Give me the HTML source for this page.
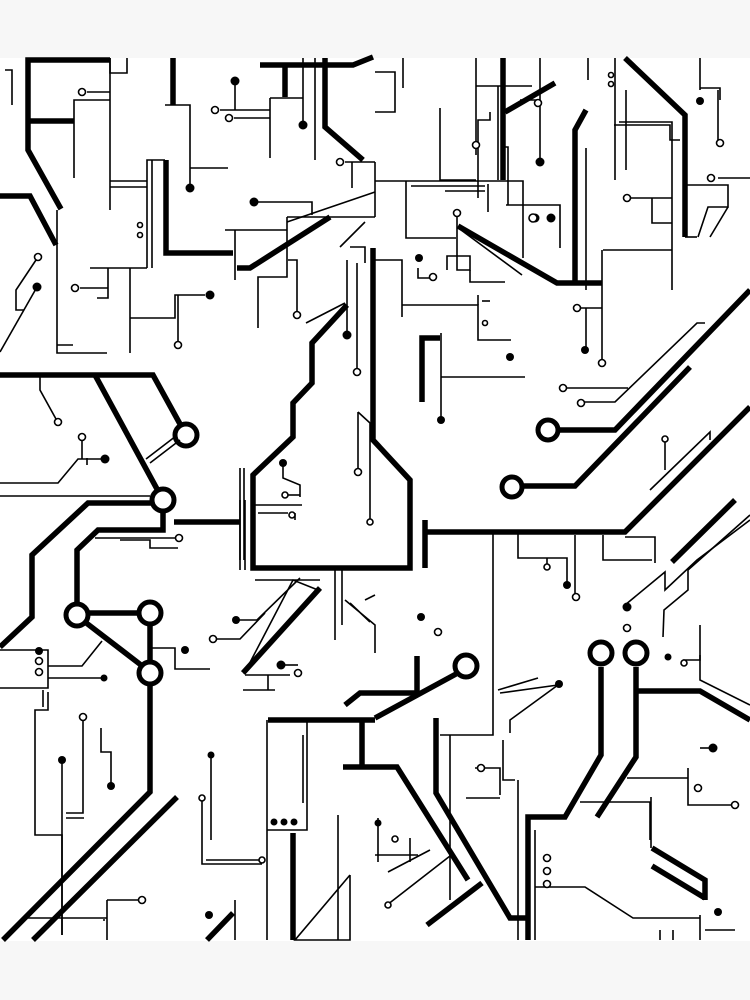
<!DOCTYPE html>
<html><head><meta charset="utf-8"><style>
html,body{margin:0;padding:0;background:#f7f7f7;}
svg{display:block;}
</style></head><body>
<svg width="750" height="1000" viewBox="0 0 750 1000" xmlns="http://www.w3.org/2000/svg">
<rect x="0" y="0" width="750" height="1000" fill="#f7f7f7"/>
<rect x="0" y="58" width="750" height="883" fill="#fff"/>
<g fill="none" stroke="#000" stroke-linejoin="miter">
<!-- THICK -->
<g stroke-width="5.5">
<path d="M110,60H28V150L61,209"/>
<path d="M28,121H74"/>
<path d="M0,196H30L56,245"/>
<path d="M0,375H153L180,424"/>
<path d="M95,375L157,489"/>
<path d="M173,58V105"/>
<path d="M166,160V253H233"/>
<path d="M237,268H250L330,217"/>
<path d="M260,65H353L373,57"/>
<path d="M285,65V97"/>
<path d="M325,58V127L363,160"/>
<path d="M347,305L312,343V383L293,403V437L253,475V568H410V480L373,440V248"/>
<path d="M503,58V180"/>
<path d="M505,112L555,83"/>
<path d="M458,226L557,283H602"/>
<path d="M586,110L575,130V283"/>
<path d="M625,58L685,115V237"/>
<path d="M750,290L615,430H559"/>
<path d="M690,367L575,486H523"/>
<path d="M750,407L625,532H425"/>
<path d="M735,500L672,562"/>
<path d="M422,402V338H440"/>
<path d="M0,647L32,617V555L88,503H152"/>
<path d="M77,602V550L98,530H163V512"/>
<path d="M174,522H240"/>
<path d="M85,613H140"/>
<path d="M85,622L141,665"/>
<path d="M150,624V662"/>
<path d="M150,684V792L3,940"/>
<path d="M177,797L33,940"/>
<path d="M320,588L243,673"/>
<path d="M268,720H375"/>
<path d="M343,767H375"/>
<path d="M293,833V940"/>
<path d="M207,940L233,913"/>
<path d="M601,667V755L565,817H528V940"/>
<path d="M636,667V757L597,817"/>
<path d="M638,691H700L750,720"/>
<path d="M456,674L375,718"/>
<path d="M436,718V793L510,918H528"/>
<path d="M375,767H397L468,880"/>
<path d="M427,925L482,883"/>
<path d="M652,848L705,880V900"/>
<path d="M652,866L705,898"/>
<path d="M345,705L360,693H417V656"/>
<path d="M362,720V767"/>
<path d="M425,520V568"/>
</g>
<!-- CIRCLES thick -->
<g stroke-width="5" fill="#fff">
<circle cx="186" cy="435" r="11"/>
<circle cx="163" cy="500" r="11"/>
<circle cx="77" cy="615" r="11"/>
<circle cx="150" cy="613" r="11"/>
<circle cx="150" cy="673" r="11"/>
<circle cx="548" cy="430" r="10"/>
<circle cx="512" cy="487" r="10"/>
<circle cx="466" cy="666" r="11"/>
<circle cx="601" cy="653" r="11"/>
<circle cx="636" cy="653" r="11"/>
</g>
<!-- THIN -->
<g stroke-width="1.6">
<path d="M5,70H12V105"/>
<path d="M110,58V73H127V58"/>
<path d="M74,178V100H110"/><path d="M110,58V210"/>
<path d="M87,92H110"/>
<path d="M110,181H147M110,187H147"/>
<path d="M165,160H147V268M152,160V268"/>
<path d="M90,268H147"/><path d="M108,268V298H97"/>
<path d="M80,288H108"/>
<path d="M130,268V353"/><path d="M130,318H175V295H205"/><path d="M178,295V342"/>
<path d="M57,210V353H107M57,345H73"/>
<path d="M165,105H190V188"/><path d="M190,168H228"/>
<path d="M235,81V110"/><path d="M220,110H270"/><path d="M234,118H270"/>
<path d="M270,98V158"/><path d="M270,98H303"/><path d="M303,58V125"/><path d="M315,58V160"/>
<path d="M345,162H375"/><path d="M352,162V188"/>
<path d="M254,202H312V215"/><path d="M287,217H375"/>
<path d="M258,328V277H287V217"/><path d="M288,260H297V312"/>
<path d="M225,230H287"/><path d="M235,230V280"/>
<path d="M340,247L365,222"/><path d="M287,222L375,192"/>
<path d="M375,162V217"/>
<path d="M347,260V333"/><path d="M357,263V368"/><path d="M350,247H365V263"/>
<path d="M36,260L16,290V310H24"/><path d="M37,287L0,352"/>
<path d="M40,375V390L56,419"/>
<path d="M82,441V459"/><path d="M87,465V458"/><path d="M101,459H78L58,483H0"/>
<path d="M0,496H150"/>
<path d="M150,463L180,440M146,459L176,436"/>
<path d="M283,463V478L300,485V497"/><path d="M288,495H300"/>
<path d="M358,412L370,423V520"/><path d="M358,472V412"/>
<path d="M258,513H288"/>
<path d="M240,468V560M244,468V560"/>
<path d="M306,323L345,303"/>
<!-- Q2 -->
<path d="M375,72H395V112H375"/><path d="M403,58V88"/>
<path d="M476,58V155"/><path d="M476,86H532"/><path d="M498,86V180"/>
<path d="M440,108V180H476"/>
<path d="M540,58V160"/><path d="M520,100H540"/>
<path d="M490,112V120H478V148"/><path d="M478,148V198"/>
<path d="M375,181H523V258M406,181V238H456"/>
<path d="M411,186H485M445,191H485"/>
<path d="M488,184V212"/><path d="M505,147H508V205"/><path d="M506,205H560V248"/>
<path d="M457,215V270H470V256H447V270"/>
<path d="M457,227L522,275"/>
<path d="M418,268V278H430"/><path d="M470,270V282H505"/>
<path d="M375,260H402V317"/><path d="M402,305H478V340H511"/>
<path d="M478,295V305"/>
<path d="M441,333V420"/><path d="M441,377H525"/>
<path d="M482,301L490,301"/>
<path d="M588,80V58M615,58V180"/><path d="M586,148V290"/><path d="M614,125H670V140H680"/>
<path d="M619,122H672V290"/>
<path d="M625,198H672"/><path d="M652,198V223H672"/>
<path d="M603,250H672"/>
<path d="M602,250V360"/>
<path d="M577,308H602"/><path d="M586,308V350"/>
<path d="M626,90V170"/><path d="M700,58V90M700,88H720V100"/><path d="M718,90V142"/>
<path d="M718,178H750"/><path d="M685,185H728V207H708L698,237"/><path d="M728,207L710,237"/>
<path d="M697,237H685"/>
<path d="M563,388H628"/><path d="M580,402H615L697,323H705"/>
<path d="M665,440V470"/><path d="M650,490L710,432V440"/>
</g>
<g stroke-width="1.6">
<!-- Q3 -->
<path d="M120,540H150V548H178"/><path d="M95,538H175"/>
<path d="M240,500V570M245,500V570"/>
<path d="M255,505H302"/><path d="M295,513V520"/>
<path d="M335,570V640"/><path d="M342,570V625"/><path d="M345,600L375,625V653M350,603L370,622"/><path d="M365,600L375,595"/>
<path d="M255,580L293,580L318,590"/>
<path d="M244,674L293,580H320"/>
<path d="M236,620H257L300,578"/><path d="M215,639H240L265,613"/>
<path d="M245,675H290M268,675V690"/><path d="M243,690H275"/>
<path d="M283,665H298"/>
<path d="M0,688H48V650H0"/><path d="M48,666H82L102,641"/><path d="M48,678H103"/>
<path d="M48,692V710H35V835H62V935"/><path d="M43,690V707"/>
<path d="M62,760V935"/><path d="M83,717V813H66"/><path d="M101,728V752H111V786"/><path d="M66,818H84"/>
<path d="M150,648H175V669H210"/>
<path d="M211,755V840"/><path d="M202,798V864H262"/><path d="M206,860H262"/>
<path d="M267,720V940"/><path d="M267,830H307V720"/><path d="M303,735V803"/>
<path d="M338,815V940"/><path d="M350,875V940L295,940L350,875"/>
<path d="M235,900V940"/>
<path d="M107,900H141M107,900V940M103,920H105M28,918H107"/>
<!-- Q4 -->
<path d="M493,532V735H440"/><path d="M498,690L538,678"/><path d="M500,693L558,685"/>
<path d="M518,532V558H567V582"/><path d="M547,558V565"/><path d="M575,535V597"/><path d="M603,535V560H652"/>
<path d="M625,537H655V563"/>
<path d="M625,605L665,572V590L697,560L750,520"/>
<path d="M663,637L664,610L688,590V570L750,515"/>
<path d="M683,660H700V625"/><path d="M700,655V680L750,705"/>
<path d="M475,768H500V775M500,768V795"/><path d="M466,798H500"/>
<path d="M503,740V780H515"/><path d="M518,780V940"/>
<path d="M558,685L510,720V733"/>
<path d="M450,735V900"/>
<path d="M388,872L430,850M387,905L450,856"/>
<path d="M378,818V862M410,838V862"/><path d="M375,855H418"/>
<path d="M627,778H688"/><path d="M688,768V805H735"/><path d="M700,748H712"/>
<path d="M535,887H585L633,918H700"/><path d="M535,830V940"/>
<path d="M700,915V940"/><path d="M705,930H735"/>
<path d="M660,930V940M673,930V940"/>
<path d="M651,797V848"/>
<path d="M580,802H650V840"/>
</g>
<!-- filled pins -->
<g fill="#000" stroke="none">
<circle cx="235" cy="81" r="4.5"/><circle cx="303" cy="125" r="4.5"/><circle cx="190" cy="188" r="4.5"/>
<circle cx="254" cy="202" r="4.5"/><circle cx="210" cy="295" r="4.5"/><circle cx="347" cy="335" r="4.5"/>
<circle cx="37" cy="287" r="4.5"/><circle cx="105" cy="459" r="4.5"/><circle cx="283" cy="463" r="4"/>
<circle cx="540" cy="162" r="4.5"/><circle cx="700" cy="101" r="4"/><circle cx="419" cy="258" r="4"/>
<circle cx="510" cy="357" r="4"/><circle cx="441" cy="420" r="4"/><circle cx="585" cy="350" r="4"/>
<circle cx="535" cy="218" r="4.5"/><circle cx="551" cy="218" r="4.5"/>
<circle cx="39" cy="651" r="4"/><circle cx="104" cy="678" r="3.5"/><circle cx="185" cy="650" r="4"/>
<circle cx="236" cy="620" r="4"/><circle cx="281" cy="665" r="4.5"/><circle cx="62" cy="760" r="4"/>
<circle cx="111" cy="786" r="4"/><circle cx="211" cy="755" r="3.5"/><circle cx="209" cy="915" r="4"/>
<circle cx="274" cy="822" r="3.5"/><circle cx="284" cy="822" r="3.5"/><circle cx="294" cy="822" r="3.5"/>
<circle cx="421" cy="617" r="4"/><circle cx="567" cy="585" r="4"/><circle cx="627" cy="607" r="4.5"/>
<circle cx="559" cy="684" r="4"/><circle cx="668" cy="657" r="3.5"/><circle cx="713" cy="748" r="4.5"/>
<circle cx="378" cy="823" r="3.5"/><circle cx="718" cy="912" r="4"/>
</g>
<!-- open pins -->
<g fill="#fff" stroke-width="1.6">
<circle cx="82" cy="92" r="3.5"/><circle cx="140" cy="225" r="2.5"/><circle cx="140" cy="235" r="2.5"/>
<circle cx="75" cy="288" r="3.5"/><circle cx="178" cy="345" r="3.5"/><circle cx="215" cy="110" r="3.5"/>
<circle cx="229" cy="118" r="3.5"/><circle cx="340" cy="162" r="3.5"/><circle cx="297" cy="315" r="3.5"/>
<circle cx="357" cy="372" r="3.5"/><circle cx="38" cy="257" r="3.5"/><circle cx="58" cy="422" r="3.5"/>
<circle cx="82" cy="437" r="3.5"/><circle cx="285" cy="495" r="3"/><circle cx="358" cy="472" r="3.5"/>
<circle cx="370" cy="522" r="3"/>
<circle cx="476" cy="145" r="3.5"/><circle cx="538" cy="103" r="3.5"/><circle cx="457" cy="213" r="3.5"/>
<circle cx="433" cy="277" r="3.5"/><circle cx="485" cy="323" r="2.5"/><circle cx="577" cy="308" r="3.5"/>
<circle cx="602" cy="363" r="3.5"/><circle cx="627" cy="198" r="3.5"/><circle cx="711" cy="178" r="3.5"/>
<circle cx="720" cy="143" r="3.5"/><circle cx="611" cy="75" r="2.5"/><circle cx="611" cy="84" r="2.5"/>
<circle cx="563" cy="388" r="3.5"/><circle cx="581" cy="403" r="3.5"/><circle cx="665" cy="439" r="3"/>
<circle cx="533" cy="218" r="4"/>
<circle cx="179" cy="538" r="3.5"/><circle cx="292" cy="515" r="3"/><circle cx="213" cy="639" r="3.5"/>
<circle cx="298" cy="673" r="3.5"/><circle cx="39" cy="661" r="3.5"/><circle cx="39" cy="672" r="3.5"/>
<circle cx="83" cy="717" r="3.5"/><circle cx="202" cy="798" r="3"/><circle cx="262" cy="860" r="3"/>
<circle cx="142" cy="900" r="3.5"/><circle cx="438" cy="632" r="3.5"/><circle cx="547" cy="567" r="3"/>
<circle cx="576" cy="597" r="3.5"/><circle cx="627" cy="628" r="3.5"/><circle cx="684" cy="663" r="3"/>
<circle cx="481" cy="768" r="3.5"/><circle cx="395" cy="839" r="3"/><circle cx="388" cy="905" r="3"/>
<circle cx="698" cy="788" r="3.5"/><circle cx="735" cy="805" r="3.5"/><circle cx="547" cy="858" r="3.5"/>
<circle cx="547" cy="871" r="3.5"/><circle cx="547" cy="884" r="3.5"/>
</g>
</g>
</svg>
</body></html>
